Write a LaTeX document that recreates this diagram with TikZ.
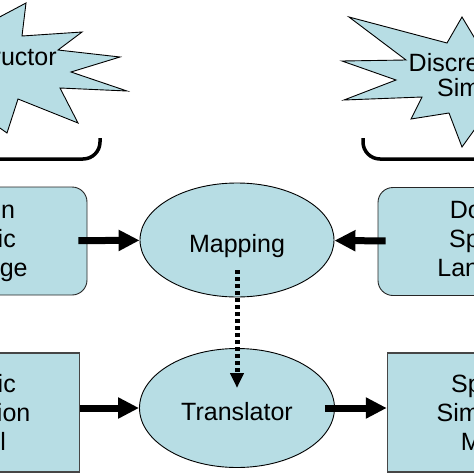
\documentclass[tikz,border=0pt]{standalone}
\usepackage{fontspec}
\setmainfont{Liberation Sans}
\usetikzlibrary{shapes.geometric,arrows.meta}
\definecolor{paleblue}{RGB}{183,221,228}
\definecolor{boxgray}{RGB}{70,70,70}

\begin{document}
\begin{tikzpicture}[x=1pt,y=-1pt,
  every node/.style={font=\fontsize{25}{29}\selectfont, align=center, inner sep=0pt},
  lang/.style={draw=black!85, line width=0.9pt, fill=paleblue, rounded corners=15pt, minimum width=230pt, minimum height=108pt},
  model/.style={draw=boxgray, line width=1.5pt, fill=paleblue, minimum width=215pt, minimum height=119pt},
  proc/.style={ellipse, draw=black, line width=0.9pt, fill=paleblue, text height=24pt, text depth=0pt},
  burst/.style={draw=black, line width=0.9pt, fill=paleblue},
  fat/.style={line width=7pt, -{Triangle[length=21pt,width=20pt]}},
  dots/.style={line width=5pt, dash pattern=on 4pt off 3pt, -{Triangle[length=15pt,width=13pt]}},
  brace/.style={line width=3.5pt, rounded corners=17pt}]
\useasboundingbox (0,0) rectangle (474,474);
\clip (0,0) rectangle (474,474);

% the two tools on top
\draw[burst] (26,3) -- (22,36) -- (82,32) -- (58,50) -- (120,57) -- (71,72) -- (127,91)
  -- (60,88) -- (78,123) -- (18,99) -- (7,133) -- (-20,114) -- (-60,80) -- (-40,38) -- cycle;
\node (constr) at (-8,57) {Constructor};
\draw[burst] (462,17) -- (447,43) -- (349,17) -- (406,60) -- (342,61) -- (396,80) -- (344,100)
  -- (422,97) -- (411,119) -- (449,113) -- (462,147) -- (485,115) -- (540,100) -- (540,40) -- (480,47) -- cycle;
\node[font=\fontsize{25}{25}\selectfont] (desim) at (490,75) {Discrete Event\\Simulator};
\draw[brace] (-30,159) -- (100,159) -- (100,138);
\draw[brace] (363,138) -- (363,159) -- (500,159);

% languages and models
\node[lang] (dgl) at (-28,241) {Domain\\Generic\\Language};
\node[lang] (dsl) at (493,241.5) {Domain\\Specific\\Language};
\node[model] (gsm) at (-28,412.5) {Generic\\Simulation\\Model};
\node[model] (ssm) at (495,412.5) {Specific\\Simulation\\Model};

\node[proc, minimum width=194pt, minimum height=114pt] (map) at (237,240) {Mapping};
\node[proc, minimum width=195pt, minimum height=119pt] (trans) at (237,408) {Translator};

\draw[fat, shorten <=-9pt] (dgl) -- (map);
\draw[fat, shorten <=-8pt] (dsl) -- (map);
\draw[fat] (gsm.east |- trans.west) -- (trans.west);
\draw[fat, shorten <=-10pt] (trans.east) -- (trans.east -| ssm.west);
\draw[dots] ([yshift=-30pt]map.center) -- ([yshift=20pt]trans.center);
\end{tikzpicture}
\end{document}
